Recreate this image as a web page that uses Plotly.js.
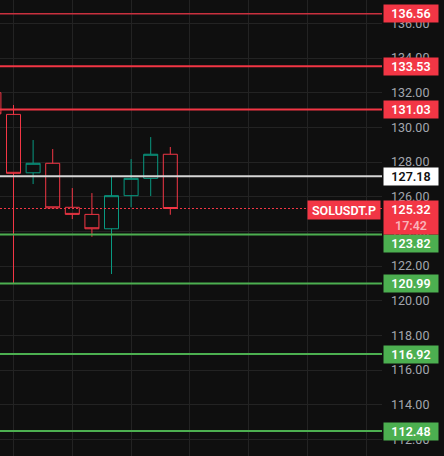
<!DOCTYPE html>
<html>
<head>
<meta charset="utf-8">
<script src="https://cdn.plot.ly/plotly-3.0.1.min.js"></script>
<style>
html,body{margin:0;padding:0;background:#0f0f0f;}
#chart{width:444px;height:456px;}
</style>
</head>
<body>
<div id="chart"></div>
<script>
// Candles (bar index, OHLC)
const barIndex = [0, 1, 2, 3, 4, 5, 6, 7, 8, 9];
const opens  = [132.00, 130.75, 127.38, 127.93, 125.39, 124.98, 124.15, 126.06, 127.06, 128.45];
const highs  = [132.40, 131.29, 129.27, 128.75, 126.50, 126.21, 127.15, 128.17, 129.44, 128.87];
const lows   = [130.60, 121.00, 126.73, 125.36, 124.71, 123.69, 121.54, 125.40, 126.04, 124.96];
const closes = [130.78, 127.35, 127.93, 125.36, 124.98, 124.15, 126.06, 127.06, 128.45, 125.32];

// Horizontal levels
const resistanceLevels = [136.56, 133.53, 131.03];
const pivotLevel = 127.18;
const supportLevels = [123.82, 120.99, 116.92, 112.48];
const lastPrice = 125.32;
const symbolName = "SOLUSDT.P";
const countdown = "17:42";

const RED = '#f23645', TEAL = '#089981', GREEN = '#4caf50', BG = '#0f0f0f';

const trace = {
  type: 'candlestick',
  x: barIndex, open: opens, high: highs, low: lows, close: closes,
  increasing: {line: {color: TEAL, width: 1}, fillcolor: 'rgba(0,0,0,0)'},
  decreasing: {line: {color: RED, width: 1}, fillcolor: 'rgba(0,0,0,0)'},
  whiskerwidth: 0,
  hoverinfo: 'skip',
  showlegend: false
};

const shapes = [];
const annotations = [];
function lvlLabel(v, bg, fg, yshift) {
  annotations.push({
    xref: 'paper', x: 1, xanchor: 'left', xshift: 1,
    yref: 'y', y: v, yanchor: 'middle', yshift: yshift || 0,
    text: v.toFixed(2), showarrow: false,
    bgcolor: bg, font: {color: fg, size: 12.5, family: 'Roboto', weight: 600},
    width: 50, height: 13, borderpad: 2, align: 'center'
  });
}
resistanceLevels.forEach((v, i) => {
  shapes.push({type: 'line', xref: 'paper', x0: 0, x1: 1, yref: 'y', y0: v, y1: v,
    line: {color: i === 0 ? '#c9303e' : RED, width: i === 0 ? 1.5 : 2}});
  lvlLabel(v, RED, '#ffffff');
});
shapes.push({type: 'line', xref: 'paper', x0: 0, x1: 1, yref: 'y', y0: pivotLevel, y1: pivotLevel,
  line: {color: '#d6d6d6', width: 2}});
lvlLabel(pivotLevel, '#ffffff', '#111111');
supportLevels.forEach((v, i) => {
  shapes.push({type: 'line', xref: 'paper', x0: 0, x1: 1, yref: 'y', y0: v, y1: v,
    line: {color: GREEN, width: 2}});
  lvlLabel(v, GREEN, '#ffffff', i === 0 ? -9 : 0);
});
// last price dotted line
shapes.push({type: 'line', xref: 'paper', x0: 0, x1: 1, yref: 'y', y0: lastPrice, y1: lastPrice,
  line: {color: RED, width: 1, dash: '2px,2px'}});
annotations.push({
  xref: 'paper', x: 1, xanchor: 'left', xshift: 1,
  yref: 'y', y: lastPrice, yanchor: 'top', yshift: 9,
  text: lastPrice.toFixed(2) + '<br><span style="color:#f9b3ba">' + countdown + '</span>',
  showarrow: false, bgcolor: RED, font: {color: '#ffffff', size: 12.5, family: 'Roboto', weight: 600},
  width: 50, height: 29, borderpad: 2, align: 'center'
});
annotations.push({
  xref: 'paper', x: 1, xanchor: 'right', xshift: -1,
  yref: 'y', y: lastPrice, yanchor: 'middle', yshift: -1,
  text: symbolName, showarrow: false, bgcolor: RED,
  font: {color: '#ffffff', size: 12.5, family: 'Roboto', weight: 600},
  width: 68, height: 14, borderpad: 2, align: 'center'
});

const layout = {
  width: 444, height: 456,
  margin: {l: 0, r: 62, t: 0, b: 0, pad: 0},
  paper_bgcolor: BG, plot_bgcolor: BG,
  boxgap: 0.286, boxgroupgap: 0,
  showlegend: false,
  dragmode: false,
  xaxis: {
    range: [0.311, 19.8], tickmode: 'linear', tick0: 1, dtick: 3,
    showticklabels: false, ticks: '', gridcolor: '#232323', gridwidth: 1,
    zeroline: false, showline: false, rangeslider: {visible: false}, fixedrange: true
  },
  yaxis: {
    side: 'right', range: [111.04, 137.35], tickmode: 'linear', tick0: 0, dtick: 2,
    tickformat: '.2f', ticks: '', ticklabelstandoff: 8,
    tickfont: {color: '#a3a6ae', size: 12.5, family: 'Roboto'},
    gridcolor: '#232323', gridwidth: 1, zeroline: false, showline: false,
    automargin: false, fixedrange: true
  },
  shapes: shapes,
  annotations: annotations
};

Plotly.newPlot('chart', [trace], layout, {displayModeBar: false, staticPlot: true});
</script>
</body>
</html>
